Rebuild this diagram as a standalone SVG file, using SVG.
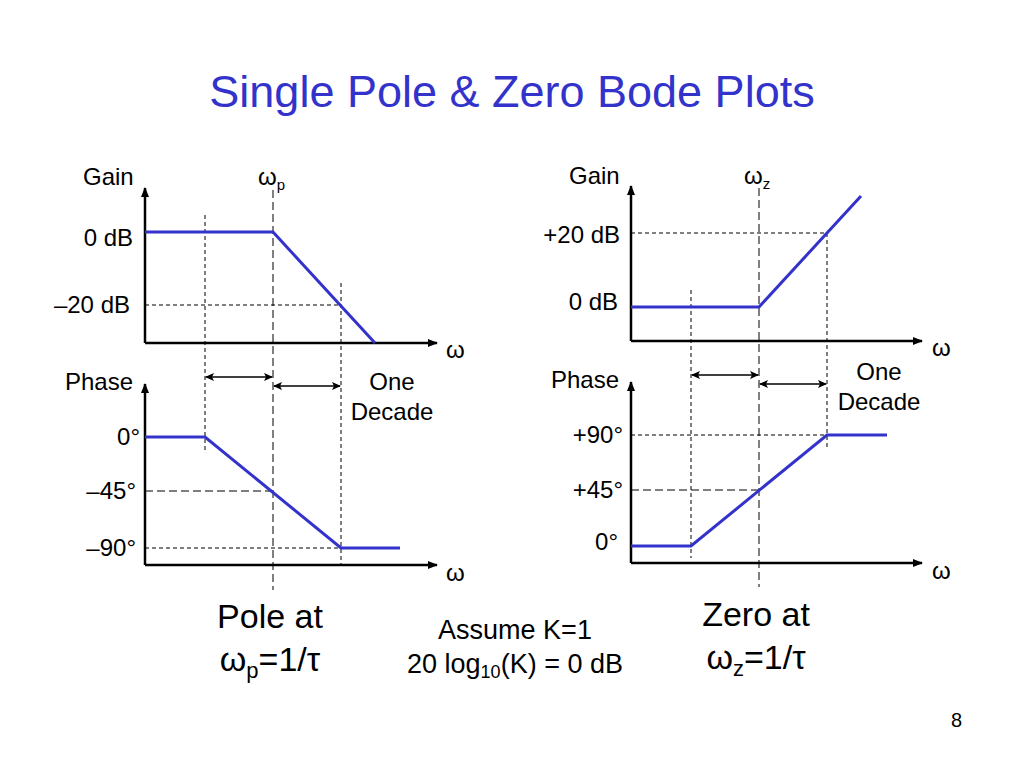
<svg xmlns="http://www.w3.org/2000/svg" width="1024" height="768" viewBox="0 0 1024 768">
<defs>
<marker id="ah" markerWidth="10" markerHeight="8" refX="9" refY="4" orient="auto" markerUnits="userSpaceOnUse"><path d="M0,0 L10,4 L0,8 Z" fill="#000"/></marker>
<marker id="sa" markerWidth="9" markerHeight="8" refX="8" refY="4" orient="auto-start-reverse" markerUnits="userSpaceOnUse"><path d="M0,0 L9,4 L0,8 L2,4 Z" fill="#000"/></marker>
</defs>
<style>
text{font-family:"Liberation Sans",Arial,sans-serif;fill:#000}
.l{font-size:24px}
.r{text-anchor:end}
.ax{stroke:#000;stroke-width:2.5;fill:none}
.d{stroke:#000;stroke-width:1;stroke-dasharray:4,3;fill:none}
.dd{stroke:#000;stroke-width:1;stroke-dasharray:8,4;fill:none}
.c{stroke:#3333cc;stroke-width:3;fill:none}
.ar{stroke:#000;stroke-width:1.5;fill:none}
</style>
<rect width="1024" height="768" fill="#fff"/>
<text x="512" y="107" text-anchor="middle" style="font-size:45px;fill:#3333cc">Single Pole &amp; Zero Bode Plots</text>
<g id="pole-plot">
<path class="ax" d="M145,343 V188" marker-end="url(#ah)"/>
<path class="ax" d="M145,343 H437" marker-end="url(#ah)"/>
<path class="ax" d="M145,565 V384" marker-end="url(#ah)"/>
<path class="ax" d="M145,565 H437" marker-end="url(#ah)"/>
<path class="d" d="M205,215 V453 M341,283 V565 M145,305 H341 M145,548 H341"/>
<path class="dd" d="M273,190 V590 M145,491 H273"/>
<path class="c" d="M145,232 H273 L375,343"/>
<path class="c" d="M145,437 H205 L341,548 H400"/>
<path class="ar" d="M206,377 H272" marker-start="url(#sa)" marker-end="url(#sa)"/>
<path class="ar" d="M274,386 H340" marker-start="url(#sa)" marker-end="url(#sa)"/>
<text class="l" x="83" y="185">Gain</text>
<text class="l" x="258" y="185">ω<tspan font-size="15" dy="5">p</tspan></text>
<text class="l r" x="133" y="246">0 dB</text>
<text class="l r" x="130" y="313">–20 dB</text>
<text class="l" x="446" y="358">ω</text>
<text class="l" x="65" y="390">Phase</text>
<text class="l" x="392" y="390" text-anchor="middle">One</text>
<text class="l" x="392" y="420" text-anchor="middle">Decade</text>
<text class="l r" x="140" y="445">0°</text>
<text class="l r" x="136" y="499">–45°</text>
<text class="l r" x="136" y="556">–90°</text>
<text class="l" x="446" y="581">ω</text>
<text x="270" y="628" text-anchor="middle" style="font-size:34px">Pole at</text>
<text x="270" y="671" text-anchor="middle" style="font-size:34px">ω<tspan font-size="22" dy="7">p</tspan><tspan dy="-7">=1/τ</tspan></text>
</g>
<g id="zero-plot">
<path class="ax" d="M631,341 V186" marker-end="url(#ah)"/>
<path class="ax" d="M631,341 H922" marker-end="url(#ah)"/>
<path class="ax" d="M631,563 V382" marker-end="url(#ah)"/>
<path class="ax" d="M631,563 H922" marker-end="url(#ah)"/>
<path class="d" d="M691,290 V558 M827,233 V450 M631,233 H827 M631,435 H827"/>
<path class="dd" d="M759,188 V587 M631,490 H759"/>
<path class="c" d="M631,307 H759 L861,196"/>
<path class="c" d="M631,546 H691 L827,435 H887"/>
<path class="ar" d="M692,375 H758" marker-start="url(#sa)" marker-end="url(#sa)"/>
<path class="ar" d="M760,384 H826" marker-start="url(#sa)" marker-end="url(#sa)"/>
<text class="l" x="569" y="184">Gain</text>
<text class="l" x="744" y="184">ω<tspan font-size="15" dy="5">z</tspan></text>
<text class="l r" x="620" y="243">+20 dB</text>
<text class="l r" x="618" y="310">0 dB</text>
<text class="l" x="932" y="356">ω</text>
<text class="l" x="551" y="388">Phase</text>
<text class="l" x="879" y="380" text-anchor="middle">One</text>
<text class="l" x="879" y="410" text-anchor="middle">Decade</text>
<text class="l r" x="623" y="443">+90°</text>
<text class="l r" x="623" y="498">+45°</text>
<text class="l r" x="618" y="550">0°</text>
<text class="l" x="932" y="579">ω</text>
<text x="756" y="626" text-anchor="middle" style="font-size:34px">Zero at</text>
<text x="756" y="669" text-anchor="middle" style="font-size:34px">ω<tspan font-size="22" dy="7">z</tspan><tspan dy="-7">=1/τ</tspan></text>
</g>
<g id="note">
<text x="515" y="639" text-anchor="middle" style="font-size:27px">Assume K=1</text>
<text x="515" y="673" text-anchor="middle" style="font-size:27px">20 log<tspan font-size="18" dy="5">10</tspan><tspan dy="-5">(K) = 0 dB</tspan></text>
</g>
<text x="962" y="727" text-anchor="end" style="font-size:20px">8</text>
</svg>
